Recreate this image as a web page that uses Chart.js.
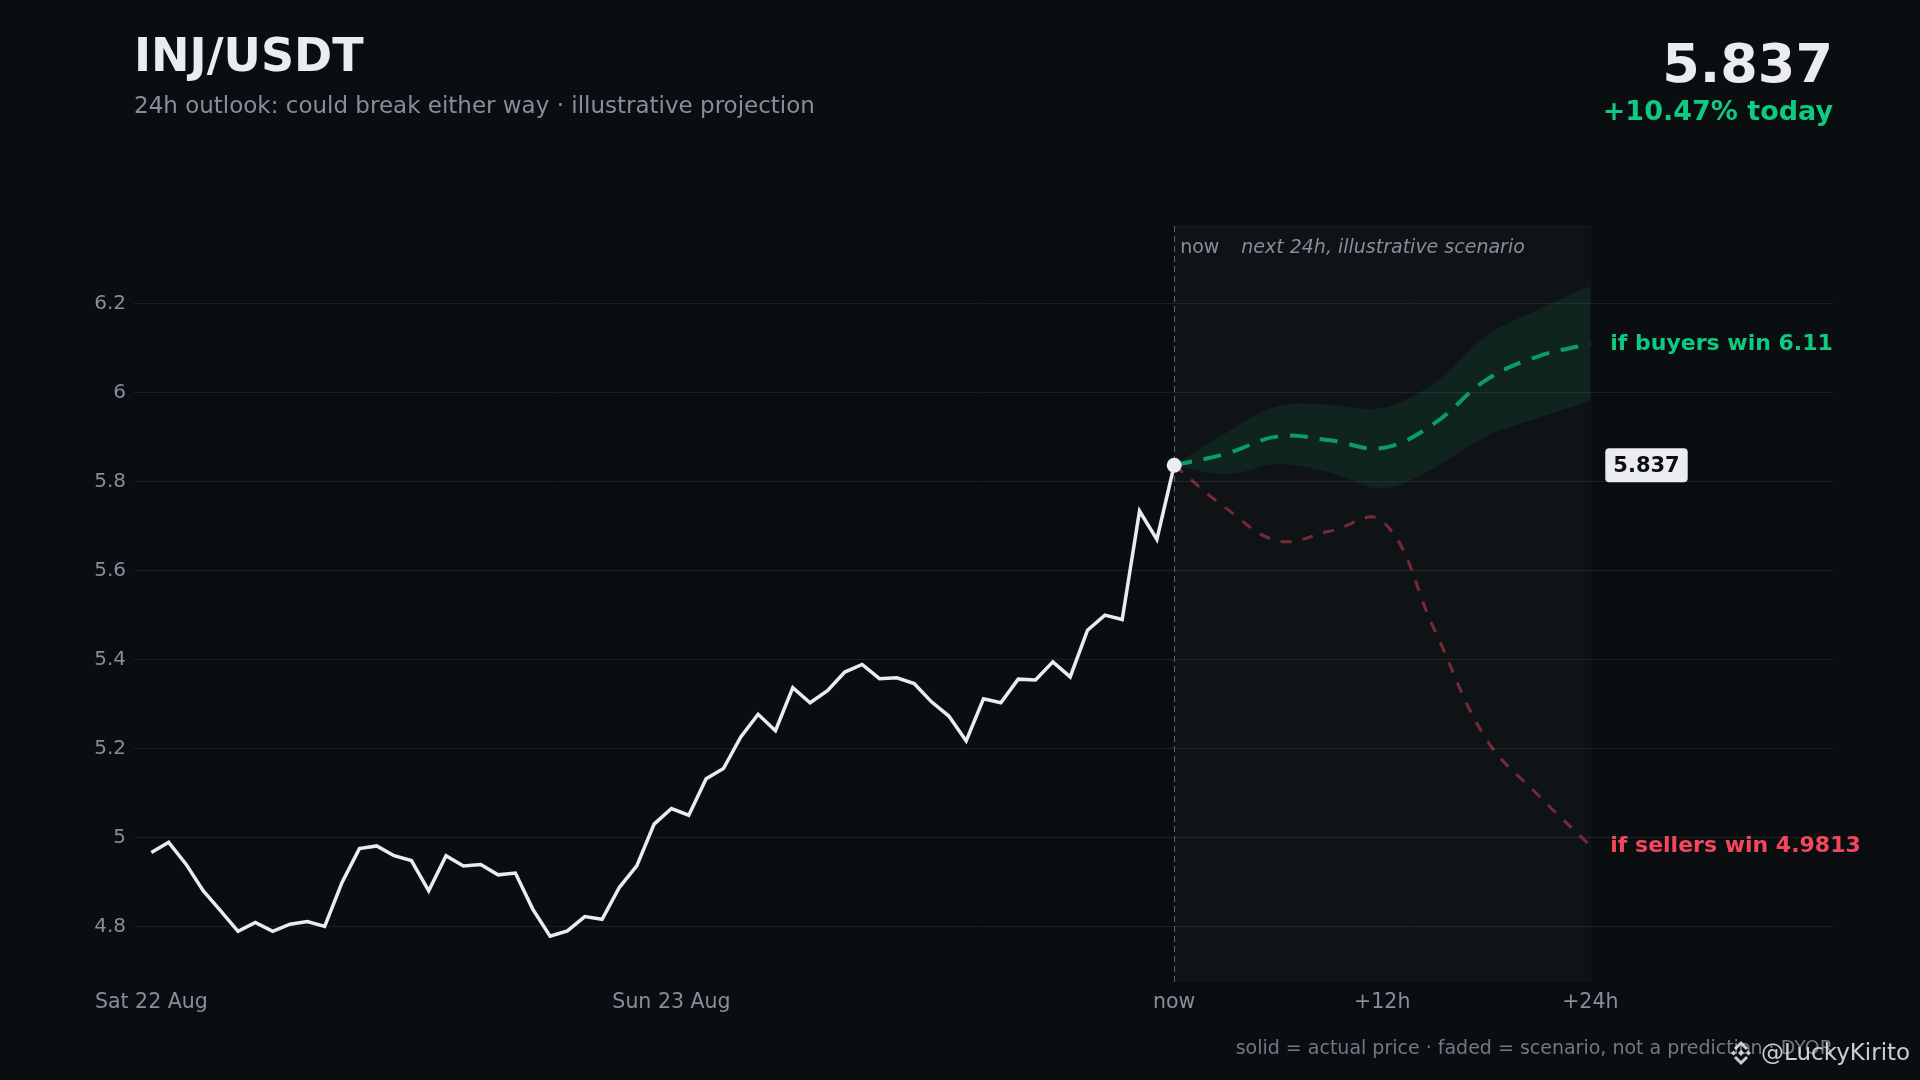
<!DOCTYPE html>
<html>
<head>
<meta charset="utf-8">
<title>INJ/USDT outlook</title>
<script src="https://cdn.jsdelivr.net/npm/chart.js@4.4.1/dist/chart.umd.min.js"></script>
<style>
  html, body { margin: 0; padding: 0; background: #0b0e11; overflow: hidden; }
  #chart { display: block; }
</style>
</head>
<body>
<canvas id="chart" width="1920" height="1080"></canvas>
<script>
// actual hourly closes, first one at hour -59, last one is "now"
const histStartHour = -59;
const histPrices = [
  4.966, 4.989, 4.940, 4.880, 4.835, 4.789, 4.809, 4.789, 4.805, 4.811,
  4.800, 4.899, 4.975, 4.981, 4.959, 4.948, 4.880, 4.959, 4.936, 4.939,
  4.916, 4.920, 4.839, 4.778, 4.790, 4.822, 4.816, 4.888, 4.936, 5.030,
  5.065, 5.050, 5.132, 5.155, 5.226, 5.277, 5.240, 5.337, 5.303, 5.330,
  5.372, 5.389, 5.357, 5.359, 5.346, 5.305, 5.273, 5.217, 5.312, 5.303,
  5.356, 5.354, 5.395, 5.361, 5.466, 5.500, 5.490, 5.734, 5.670, 5.837,
];

// scenario paths for the next 24h
const scenarioHours = [0, 3, 6, 9, 12, 15, 18, 21, 24];
const buyersPath = [5.837, 5.863, 5.902, 5.893, 5.876, 5.931, 6.029, 6.082, 6.11];
const buyersHigh = [5.837, 5.910, 5.970, 5.973, 5.966, 6.022, 6.127, 6.187, 6.240];
const buyersLow = [5.837, 5.817, 5.839, 5.820, 5.786, 5.831, 5.902, 5.943, 5.982];
const sellersPath = [5.837, 5.740, 5.667, 5.689, 5.712, 5.468, 5.221, 5.095, 4.9813];

const yTicks = [4.8, 5, 5.2, 5.4, 5.6, 5.8, 6, 6.2];
const xTickHours = [-59, -29, 0, 12, 24];
const xTickLabels = ["Sat 22 Aug", "Sun 23 Aug", "now", "+12h", "+24h"];

const lastPrice = "5.837";
const changeText = "+10.47% today";

const FONT = '"DejaVu Sans", sans-serif';
const GREEN = "#0ecb81";
const RED = "#f6465d";
const GREY = "#848e9c";
const WHITE = "#eaecef";

const toPoints = (hours, values) => hours.map((h, i) => ({ x: h, y: values[i] }));
const histPoints = histPrices.map((v, i) => ({ x: histStartHour + i, y: v }));

const scenarioPlugin = {
  id: "scenarioDecor",
  beforeDatasetsDraw(chart) {
    const { ctx, chartArea, scales } = chart;
    const x0 = scales.x.getPixelForValue(0);
    const x1 = scales.x.getPixelForValue(24);

    ctx.save();
    ctx.fillStyle = "rgba(255,255,255,0.025)";
    ctx.fillRect(x0, chartArea.top, x1 - x0, chartArea.bottom - chartArea.top);
    ctx.strokeStyle = "rgba(255,255,255,0.04)";
    ctx.lineWidth = 1;
    ctx.beginPath();
    ctx.moveTo(x0, chartArea.top + 0.5);
    ctx.lineTo(x1 + 0.5, chartArea.top + 0.5);
    ctx.lineTo(x1 + 0.5, chartArea.bottom);
    ctx.stroke();

    ctx.strokeStyle = "#5e6673";
    ctx.setLineDash([6, 4]);
    ctx.beginPath();
    ctx.moveTo(Math.round(x0) + 0.5, chartArea.top);
    ctx.lineTo(Math.round(x0) + 0.5, chartArea.bottom);
    ctx.stroke();
    ctx.setLineDash([]);

    ctx.textBaseline = "middle";
    ctx.textAlign = "left";
    ctx.fillStyle = GREY;
    ctx.font = `19px ${FONT}`;
    ctx.fillText("now", x0 + 6, chartArea.top + 22);
    ctx.font = `italic 19px ${FONT}`;
    ctx.fillText("next 24h, illustrative scenario", x0 + 67, chartArea.top + 22);
    ctx.restore();
  },
  afterDatasetsDraw(chart) {
    const { ctx, scales } = chart;
    const xEnd = scales.x.getPixelForValue(24);
    const buyersEnd = buyersPath[buyersPath.length - 1];
    const sellersEnd = sellersPath[sellersPath.length - 1];

    ctx.save();
    ctx.textBaseline = "middle";
    ctx.textAlign = "left";
    ctx.font = `bold 22px ${FONT}`;
    ctx.fillStyle = GREEN;
    ctx.fillText(`if buyers win ${buyersEnd}`, xEnd + 20, scales.y.getPixelForValue(buyersEnd));
    ctx.fillStyle = RED;
    ctx.fillText(`if sellers win ${sellersEnd}`, xEnd + 20, scales.y.getPixelForValue(sellersEnd));

    // price tag at current level
    const tagY = scales.y.getPixelForValue(parseFloat(lastPrice));
    ctx.font = `bold 21px ${FONT}`;
    const textWidth = ctx.measureText(lastPrice).width;
    const boxX = xEnd + 15;
    const boxW = textWidth + 16;
    const boxH = 34;
    ctx.fillStyle = WHITE;
    ctx.beginPath();
    ctx.roundRect(boxX, tagY - boxH / 2, boxW, boxH, 4);
    ctx.fill();
    ctx.fillStyle = "#0b0e11";
    ctx.fillText(lastPrice, boxX + 8, tagY + 1);
    ctx.restore();
  },
  afterDraw(chart) {
    const { ctx } = chart;
    ctx.save();
    ctx.textBaseline = "alphabetic";

    ctx.textAlign = "left";
    ctx.fillStyle = WHITE;
    ctx.font = `bold 46px ${FONT}`;
    ctx.fillText("INJ/USDT", 134, 71);
    ctx.fillStyle = GREY;
    ctx.font = `23px ${FONT}`;
    ctx.fillText("24h outlook: could break either way · illustrative projection", 134, 113);

    ctx.textAlign = "right";
    ctx.fillStyle = WHITE;
    ctx.font = `bold 54px ${FONT}`;
    ctx.fillText(lastPrice, 1833, 82);
    ctx.fillStyle = GREEN;
    ctx.font = `bold 27px ${FONT}`;
    ctx.fillText(changeText, 1833, 120);

    ctx.textBaseline = "middle";
    ctx.fillStyle = "#707a87";
    ctx.font = `19px ${FONT}`;
    ctx.fillText("solid = actual price · faded = scenario, not a prediction · DYOR", 1833, 1049);

    // watermark: small exchange logo + handle
    const cx = 1741;
    const cy = 1053;
    ctx.fillStyle = "rgba(230,232,236,0.88)";
    ctx.strokeStyle = "rgba(230,232,236,0.88)";
    const diamond = (x, y, r) => {
      ctx.beginPath();
      ctx.moveTo(x, y - r);
      ctx.lineTo(x + r, y);
      ctx.lineTo(x, y + r);
      ctx.lineTo(x - r, y);
      ctx.closePath();
      ctx.fill();
    };
    diamond(cx, cy, 3);
    diamond(cx - 7.5, cy, 2.5);
    diamond(cx + 7.5, cy, 2.5);
    ctx.lineWidth = 3;
    ctx.beginPath();
    ctx.moveTo(cx - 6, cy - 4);
    ctx.lineTo(cx, cy - 10);
    ctx.lineTo(cx + 6, cy - 4);
    ctx.moveTo(cx - 6, cy + 4);
    ctx.lineTo(cx, cy + 10);
    ctx.lineTo(cx + 6, cy + 4);
    ctx.stroke();
    ctx.textAlign = "left";
    ctx.font = `23px ${FONT}`;
    ctx.fillText("@LuckyKirito", 1761, 1054);
    ctx.restore();
  },
};

new Chart(document.getElementById("chart"), {
  type: "line",
  data: {
    datasets: [
      {
        label: "actual",
        data: histPoints,
        borderColor: WHITE,
        borderWidth: 3.5,
        tension: 0,
        pointRadius: histPoints.map((p, i) => (i === histPoints.length - 1 ? 7.5 : 0)),
        pointBackgroundColor: WHITE,
        pointBorderWidth: 0,
        fill: false,
      },
      {
        label: "sellers",
        data: toPoints(scenarioHours, sellersPath),
        borderColor: "rgba(246,70,93,0.45)",
        borderWidth: 3,
        borderDash: [11, 11],
        tension: 0.4,
        pointRadius: 0,
        fill: false,
      },
      {
        label: "buyers",
        data: toPoints(scenarioHours, buyersPath),
        borderColor: "rgba(14,203,129,0.72)",
        borderWidth: 4,
        borderDash: [18, 12],
        tension: 0.4,
        pointRadius: 0,
        fill: false,
      },
      {
        label: "buyers high",
        data: toPoints(scenarioHours, buyersHigh),
        borderWidth: 0,
        borderColor: "rgba(0,0,0,0)",
        backgroundColor: "rgba(14,203,129,0.085)",
        tension: 0.4,
        pointRadius: 0,
        fill: "+1",
      },
      {
        label: "buyers low",
        data: toPoints(scenarioHours, buyersLow),
        borderWidth: 0,
        borderColor: "rgba(0,0,0,0)",
        tension: 0.4,
        pointRadius: 0,
        fill: false,
      },
    ],
  },
  plugins: [scenarioPlugin],
  options: {
    responsive: false,
    animation: false,
    devicePixelRatio: 1,
    layout: { padding: { left: 0, right: 87, top: 226, bottom: 0 } },
    plugins: {
      legend: { display: false },
      tooltip: { enabled: false },
    },
    scales: {
      x: {
        type: "linear",
        min: -60,
        max: 38,
        afterFit(scale) {
          scale.height = 98;
        },
        afterBuildTicks(scale) {
          scale.ticks = xTickHours.map((h) => ({ value: h }));
        },
        ticks: {
          autoSkip: false,
          maxRotation: 0,
          padding: 0,
          color: GREY,
          font: { family: FONT, size: 20.5 },
          callback(value) {
            const idx = xTickHours.indexOf(value);
            return idx >= 0 ? xTickLabels[idx] : "";
          },
        },
        grid: { display: false },
        border: { display: false },
      },
      y: {
        min: 4.675,
        max: 6.375,
        afterFit(scale) {
          scale.width = 134;
        },
        afterBuildTicks(scale) {
          scale.ticks = yTicks.map((v) => ({ value: v }));
        },
        ticks: {
          padding: 8,
          color: GREY,
          font: { family: FONT, size: 20 },
          callback(value) {
            return String(+value.toFixed(1));
          },
        },
        grid: { color: "#1b2027", lineWidth: 1, drawTicks: false },
        border: { display: false },
      },
    },
  },
});
</script>
</body>
</html>
